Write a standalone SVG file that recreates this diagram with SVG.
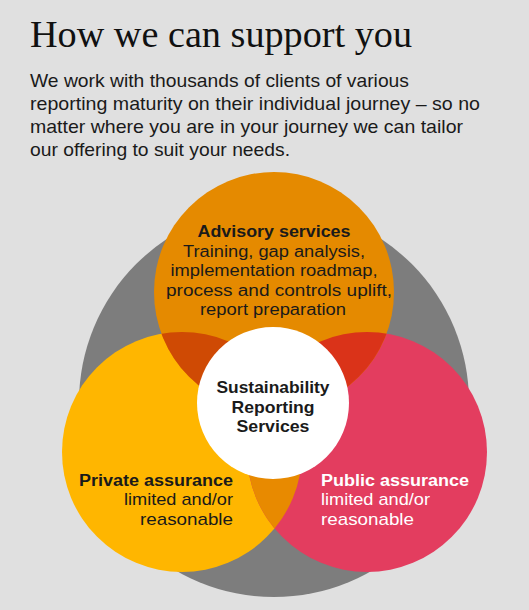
<svg xmlns="http://www.w3.org/2000/svg" width="529" height="610" viewBox="0 0 529 610">
<style>
.t{font-family:"Liberation Sans",Arial,sans-serif;fill:#1a1a1a}
.b{font-weight:bold}
.c{text-anchor:middle}
.e{text-anchor:end}
.w{fill:#ffffff}
</style>
<defs>
<clipPath id="cTop"><circle cx="274" cy="292" r="120"/></clipPath>
<clipPath id="cL"><circle cx="182" cy="452" r="120"/></clipPath>
<clipPath id="cR"><circle cx="367" cy="452" r="120"/></clipPath>
</defs>
<rect width="529" height="610" fill="#e0e0e0"/>
<text x="30" y="47" font-family="'Liberation Serif','Times New Roman',serif" font-size="38" fill="#111" textLength="382" lengthAdjust="spacingAndGlyphs">How we can support you</text>
<g class="t" font-size="19">
<text x="30" y="87" textLength="379" lengthAdjust="spacingAndGlyphs">We work with thousands of clients of various</text>
<text x="30" y="110" textLength="450" lengthAdjust="spacingAndGlyphs">reporting maturity on their individual journey – so no</text>
<text x="30" y="133" textLength="433" lengthAdjust="spacingAndGlyphs">matter where you are in your journey we can tailor</text>
<text x="30" y="156" textLength="260" lengthAdjust="spacingAndGlyphs">our offering to suit your needs.</text>
</g>
<g id="outer"><circle cx="274" cy="402" r="195" fill="#7d7d7d"/></g>
<g id="private"><circle cx="182" cy="452" r="120" fill="#ffb600"/></g>
<g id="public"><circle cx="367" cy="452" r="120" fill="#e33d5f"/></g>
<g id="advisory"><circle cx="274" cy="292" r="120" fill="#e58a00"/></g>
<g id="overlaps">
<g clip-path="url(#cL)"><circle cx="274" cy="292" r="120" fill="#cf4a04"/></g>
<g clip-path="url(#cR)"><circle cx="274" cy="292" r="120" fill="#da3319"/></g>
<g clip-path="url(#cL)"><circle cx="367" cy="452" r="120" fill="#e88a00"/></g>
</g>
<g id="center"><circle cx="273" cy="403" r="76" fill="#ffffff"/></g>
<g id="advisory-text" class="t c" font-size="16">
<text x="274" y="237" class="t c b" textLength="153" lengthAdjust="spacingAndGlyphs">Advisory services</text>
<text x="274" y="257" textLength="182" lengthAdjust="spacingAndGlyphs">Training, gap analysis,</text>
<text x="274" y="276" textLength="207" lengthAdjust="spacingAndGlyphs">implementation roadmap,</text>
<text x="279" y="296" textLength="226" lengthAdjust="spacingAndGlyphs">process and controls uplift,</text>
<text x="273" y="315" textLength="146" lengthAdjust="spacingAndGlyphs">report preparation</text>
</g>
<g id="center-text" class="t c b" font-size="16.5">
<text x="273" y="393" textLength="113" lengthAdjust="spacingAndGlyphs">Sustainability</text>
<text x="273" y="413" textLength="83" lengthAdjust="spacingAndGlyphs">Reporting</text>
<text x="273" y="432" textLength="73" lengthAdjust="spacingAndGlyphs">Services</text>
</g>
<g id="private-text" class="t e" font-size="17">
<text x="233" y="486" class="t e b" font-size="16" textLength="154" lengthAdjust="spacingAndGlyphs">Private assurance</text>
<text x="233" y="505" textLength="109" lengthAdjust="spacingAndGlyphs">limited and/or</text>
<text x="233" y="525" textLength="93" lengthAdjust="spacingAndGlyphs">reasonable</text>
</g>
<g id="public-text" class="t w" font-size="17">
<text x="321" y="486" class="t w b" font-size="16" textLength="148" lengthAdjust="spacingAndGlyphs">Public assurance</text>
<text x="321" y="505" textLength="109" lengthAdjust="spacingAndGlyphs">limited and/or</text>
<text x="321" y="525" textLength="93" lengthAdjust="spacingAndGlyphs">reasonable</text>
</g>
</svg>
